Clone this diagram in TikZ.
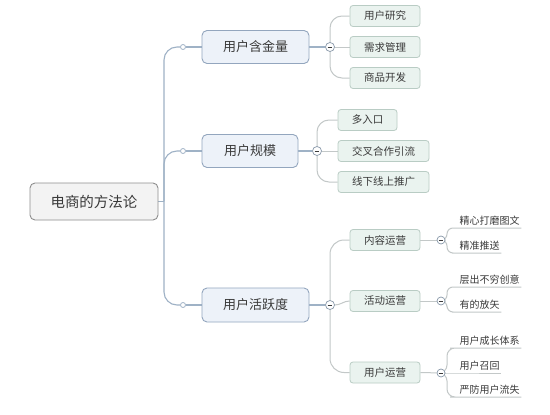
\documentclass[tikz,border=0pt]{standalone}
\usepackage{fontspec}
\newfontfamily\cjk{Noto Sans CJK SC}
\usetikzlibrary{backgrounds}
\definecolor{txt}{HTML}{3A3A3A}
\definecolor{rootfill}{HTML}{F3F3F3}
\definecolor{rootline}{HTML}{8E8E8E}
\definecolor{lonefill}{HTML}{EDF2F9}
\definecolor{loneline}{HTML}{93A6BE}
\definecolor{ltwofill}{HTML}{EAF3EF}
\definecolor{ltwoline}{HTML}{B9CCC4}
\definecolor{trunkc}{HTML}{9FB2C6}
\definecolor{greyc}{HTML}{C3C8C8}
\tikzset{
  rootbox/.style={draw=rootline, fill=rootfill, rounded corners=5pt, line width=0.9pt,
    minimum width=128pt, minimum height=37pt, inner sep=0pt,
    font=\cjk\fontsize{14.5}{17}\selectfont, text=txt},
  lonebox/.style={draw=loneline, fill=lonefill, rounded corners=5pt, line width=0.9pt,
    minimum height=33pt, inner sep=0pt, font=\cjk\fontsize{13}{15}\selectfont, text=txt},
  ltwobox/.style={draw=ltwoline, fill=ltwofill, rounded corners=3pt, line width=0.8pt,
    minimum height=21pt, inner sep=0pt, font=\cjk\fontsize{10.5}{12}\selectfont, text=txt},
  leaf/.style={anchor=south west, inner xsep=1.5pt, inner ysep=2pt,
    font=\cjk\fontsize{10}{12}\selectfont, text=txt},
  knob/.style={circle, draw=trunkc, fill=white, line width=0.8pt, minimum size=5pt, inner sep=0pt},
  fold/.style={circle, draw=trunkc!85!black, fill=white, line width=0.7pt, minimum size=9pt, inner sep=0pt,
    path picture={\draw[line width=0.8pt, txt] ([xshift=-2.3pt]path picture bounding box.center) -- ([xshift=2.3pt]path picture bounding box.center);}},
  trunkline/.style={draw=trunkc, line width=1.1pt},
  brline/.style={draw=greyc, line width=1pt},
}
\begin{document}
\begin{tikzpicture}[x=1pt,y=-1pt]
\useasboundingbox (0,0) rectangle (550,415);

% nodes
\node[rootbox] (root) at (94,201.5) {电商的方法论};

\node[lonebox, minimum width=107pt] (A) at (255.5,47) {用户含金量};
\node[lonebox, minimum width=96pt]  (B) at (250,151) {用户规模};
\node[lonebox, minimum width=107pt, minimum height=34pt] (C) at (255.5,305) {用户活跃度};

\coordinate (t) at (164,201.5);
\node[knob] (kA) at (183,47) {};
\node[knob] (kB) at (183,151) {};
\node[knob] (kC) at (183,305) {};

\node[fold] (mA) at (330,47) {};
\node[fold] (mB) at (317,151) {};
\node[fold] (mC) at (330,305) {};

\node[ltwobox, minimum width=70pt] (a1) at (385,16) {用户研究};
\node[ltwobox, minimum width=70pt] (a2) at (385,47) {需求管理};
\node[ltwobox, minimum width=70pt] (a3) at (385,78) {商品开发};

\node[ltwobox, minimum width=59pt] (b1) at (367.5,120) {多入口};
\node[ltwobox, minimum width=91pt] (b2) at (383.5,151) {交叉合作引流};
\node[ltwobox, minimum width=91pt] (b3) at (383.5,182) {线下线上推广};

\node[ltwobox, minimum width=70pt] (c1) at (385,240) {内容运营};
\node[ltwobox, minimum width=70pt] (c2) at (385,301) {活动运营};
\node[ltwobox, minimum width=70pt] (c3) at (385,372.5) {用户运营};

\node[fold, minimum size=8pt] (f1) at (441,240) {};
\node[fold, minimum size=8pt] (f2) at (441,301) {};
\node[fold, minimum size=8pt] (f3) at (441,373) {};

\node[leaf] (p1) at (458,228) {精心打磨图文};
\node[leaf] (p2) at (458,253) {精准推送};
\node[leaf] (p3) at (458,287) {层出不穷创意};
\node[leaf] (p4) at (458,312) {有的放矢};
\node[leaf] (p5) at (458,348) {用户成长体系};
\node[leaf] (p6) at (458,373) {用户召回};
\node[leaf] (p7) at (458,397) {严防用户流失};

\begin{pgfonlayer}{background}
  \fill[white] (0,0) rectangle (550,415);
  % trunk
  \draw[trunkline] (root.east) -- (t);
  \draw[trunkline, rounded corners=13pt] (t) |- (kA);
  \draw[trunkline, rounded corners=13pt] (t) |- (kB);
  \draw[trunkline, rounded corners=13pt] (t) |- (kC);
  \draw[trunkline] (kA) -- (A);
  \draw[trunkline] (kB) -- (B);
  \draw[trunkline] (kC) -- (C);
  % level-1 to folds
  \draw[trunkline] (A.east) -- (mA);
  \draw[trunkline] (B.east) -- (mB);
  \draw[trunkline] (C.east) -- (mC);
  % level-2
  \draw[brline, rounded corners=12pt] (mA) |- (a1.west);
  \draw[brline] (mA) -- (a2.west);
  \draw[brline, rounded corners=12pt] (mA) |- (a3.west);
  \draw[brline, rounded corners=12pt] (mB) |- (b1.west);
  \draw[brline] (mB) -- (b2.west);
  \draw[brline, rounded corners=12pt] (mB) |- (b3.west);
  \draw[brline, rounded corners=14pt] (mC) |- (c1.west);
  \draw[brline] (mC) to[out=0,in=180] (c2.west);
  \draw[brline, rounded corners=14pt] (mC) |- (c3.west);
  \draw[brline] (c1.east) -- (f1);
  \draw[brline] (c2.east) -- (f2);
  \draw[brline] (c3.east) -- (f3);
  % leaves
  \draw[brline, rounded corners=6pt] (f1) -- ++(6,0) |- (p1.south west) -- (p1.south east);
  \draw[brline, rounded corners=6pt] (f1) -- ++(6,0) |- (p2.south west) -- (p2.south east);
  \draw[brline, rounded corners=6pt] (f2) -- ++(6,0) |- (p3.south west) -- (p3.south east);
  \draw[brline, rounded corners=6pt] (f2) -- ++(6,0) |- (p4.south west) -- (p4.south east);
  \draw[brline, rounded corners=8pt] (f3) -- ++(6,0) |- (p5.south west) -- (p5.south east);
  \draw[brline] (f3) -- (p6.south west) -- (p6.south east);
  \draw[brline, rounded corners=8pt] (f3) -- ++(6,0) |- (p7.south west) -- (p7.south east);
\end{pgfonlayer}
\end{tikzpicture}
\end{document}
